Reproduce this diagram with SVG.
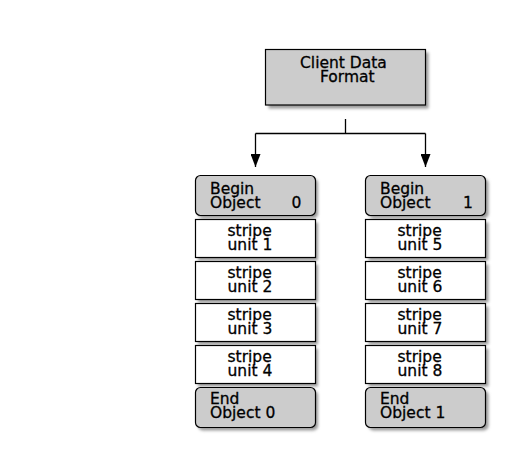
<svg xmlns="http://www.w3.org/2000/svg" width="510" height="462" viewBox="0 0 510 462">
<defs>
<filter id="sh" x="-10%" y="-10%" width="130%" height="140%"><feGaussianBlur stdDeviation="1.5"/></filter>
<marker id="arr" markerWidth="14" markerHeight="10" refX="13" refY="5" orient="auto" markerUnits="userSpaceOnUse" viewBox="0 0 14 10">
<path d="M0,0 L13,5 L0,10 Z" fill="#000"/>
</marker>
</defs>
<style>
.shadow{fill:#999;filter:url(#sh);}
.gray{fill:#cccccc;stroke:#000;stroke-width:1.2;}
.white{fill:#fff;stroke:#000;stroke-width:1.2;}
text{font-family:"DejaVu Sans",sans-serif;font-size:15.5px;fill:#000;stroke:#000;stroke-width:0.3;}
.conn{fill:none;stroke:#000;stroke-width:1.3;}
</style>
<rect width="510" height="462" fill="#fff"/>
<g id="connectors">
<path class="conn" d="M345.5,119 V133.5 M255.5,133.5 H425.5"/>
<path class="conn" d="M255.5,133.5 V167" marker-end="url(#arr)"/>
<path class="conn" d="M425.5,133.5 V167" marker-end="url(#arr)"/>
</g>
<g id="client">
<rect class="shadow" x="268.5" y="52.5" width="160" height="56"/>
<rect class="gray" x="265.5" y="49.5" width="160" height="55.5"/>
<text x="300" y="68">Client Data</text>
<text x="320" y="82">Format</text>
</g>
<g id="begin0">
<rect class="shadow" x="198" y="178.5" width="120" height="40" rx="5"/>
<rect class="gray" x="195.5" y="175.5" width="120" height="40" rx="5"/>
<text x="210" y="194">Begin</text>
<text x="210" y="208">Object</text>
<text x="291.5" y="208">0</text>
</g>
<g id="s1">
<rect class="shadow" x="198" y="222.5" width="120" height="38"/>
<rect class="white" x="195.5" y="219.5" width="120" height="38"/>
<text x="227.5" y="236">stripe</text>
<text x="227.5" y="250">unit 1</text>
</g>
<g id="s2">
<rect class="shadow" x="198" y="264.5" width="120" height="38"/>
<rect class="white" x="195.5" y="261.5" width="120" height="38"/>
<text x="227.5" y="278">stripe</text>
<text x="227.5" y="292">unit 2</text>
</g>
<g id="s3">
<rect class="shadow" x="198" y="306.5" width="120" height="38"/>
<rect class="white" x="195.5" y="303.5" width="120" height="38"/>
<text x="227.5" y="320">stripe</text>
<text x="227.5" y="334">unit 3</text>
</g>
<g id="s4">
<rect class="shadow" x="198" y="348.5" width="120" height="38"/>
<rect class="white" x="195.5" y="345.5" width="120" height="38"/>
<text x="227.5" y="362">stripe</text>
<text x="227.5" y="376">unit 4</text>
</g>
<g id="end0">
<rect class="shadow" x="198" y="390.5" width="120" height="40" rx="5"/>
<rect class="gray" x="195.5" y="387.5" width="120" height="40" rx="5"/>
<text x="210" y="403.5">End</text>
<text x="210" y="417.5">Object 0</text>
</g>
<g id="begin1">
<rect class="shadow" x="368.5" y="178.5" width="120" height="40" rx="5"/>
<rect class="gray" x="365.5" y="175.5" width="120" height="40" rx="5"/>
<text x="380" y="194">Begin</text>
<text x="380" y="208">Object</text>
<text x="463" y="208">1</text>
</g>
<g id="s5">
<rect class="shadow" x="368.5" y="222.5" width="120" height="38"/>
<rect class="white" x="365.5" y="219.5" width="120" height="38"/>
<text x="397.5" y="236">stripe</text>
<text x="397.5" y="250">unit 5</text>
</g>
<g id="s6">
<rect class="shadow" x="368.5" y="264.5" width="120" height="38"/>
<rect class="white" x="365.5" y="261.5" width="120" height="38"/>
<text x="397.5" y="278">stripe</text>
<text x="397.5" y="292">unit 6</text>
</g>
<g id="s7">
<rect class="shadow" x="368.5" y="306.5" width="120" height="38"/>
<rect class="white" x="365.5" y="303.5" width="120" height="38"/>
<text x="397.5" y="320">stripe</text>
<text x="397.5" y="334">unit 7</text>
</g>
<g id="s8">
<rect class="shadow" x="368.5" y="348.5" width="120" height="38"/>
<rect class="white" x="365.5" y="345.5" width="120" height="38"/>
<text x="397.5" y="362">stripe</text>
<text x="397.5" y="376">unit 8</text>
</g>
<g id="end1">
<rect class="shadow" x="368.5" y="390.5" width="120" height="40" rx="5"/>
<rect class="gray" x="365.5" y="387.5" width="120" height="40" rx="5"/>
<text x="380" y="403.5">End</text>
<text x="380" y="417.5">Object 1</text>
</g>
</svg>
